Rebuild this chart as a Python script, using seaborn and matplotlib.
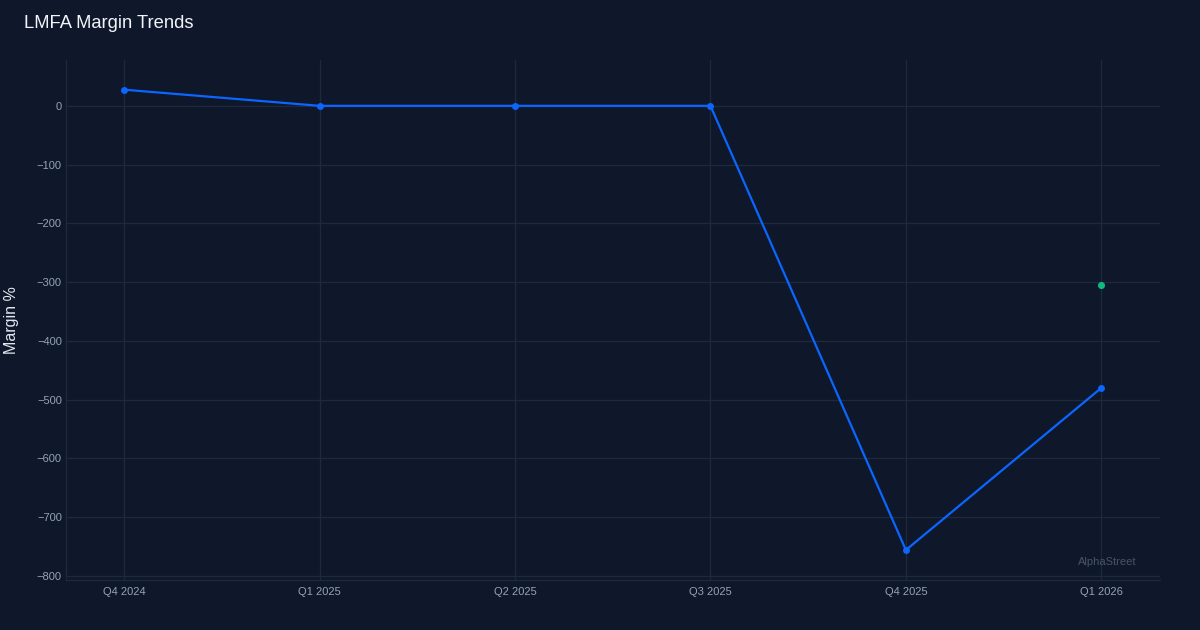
import pandas as pd
import seaborn as sns
import matplotlib.pyplot as plt

quarters = ["Q4 2024", "Q1 2025", "Q2 2025", "Q3 2025", "Q4 2025", "Q1 2026"]
margin = [27.5, 0, 0, 0, -756, -480]
estimate_quarter = ["Q1 2026"]
estimate_margin = [-305]

bg = "#0f172a"
grid = "#1e293b"
tick_color = "#94a3b8"

sns.set_theme(style="darkgrid")
plt.rcParams["font.family"] = ["Liberation Sans", "DejaVu Sans"]

df = pd.DataFrame({"Quarter": quarters, "Margin": margin})
df["pos"] = range(len(quarters))
est = pd.DataFrame({"Quarter": estimate_quarter, "Margin": estimate_margin})
est["pos"] = [quarters.index(q) for q in estimate_quarter]

fig = plt.figure(figsize=(12, 6.3), dpi=100, facecolor=bg)
ax = fig.add_axes([66 / 1200, 50 / 630, (1160 - 66) / 1200, (580 - 60) / 630])
ax.set_facecolor(bg)

sns.lineplot(data=df, x="pos", y="Margin", ax=ax, color="#0a66ff",
             linewidth=1.6, marker="o", markersize=5, markeredgewidth=0)
sns.scatterplot(data=est, x="pos", y="Margin", ax=ax, color="#10b981",
                s=26, linewidth=0, zorder=3)

ax.set_xlim(-0.297, 5.30)
ax.set_ylim(-807, 78)
ax.set_xticks(range(len(quarters)))
ax.set_xticklabels(quarters)
ax.set_yticks([0, -100, -200, -300, -400, -500, -600, -700, -800])
ax.set_yticklabels(["0", "\u2212100", "\u2212200", "\u2212300", "\u2212400",
                    "\u2212500", "\u2212600", "\u2212700", "\u2212800"])
ax.tick_params(colors=tick_color, labelsize=8, length=0)
ax.tick_params(axis="y", pad=3)
ax.tick_params(axis="x", pad=5)
ax.grid(True, color=grid, linewidth=1)
for side in ["top", "right"]:
    ax.spines[side].set_visible(False)
for side in ["left", "bottom"]:
    ax.spines[side].set_visible(True)
    ax.spines[side].set_color(grid)
    ax.spines[side].set_linewidth(1)

ax.set_xlabel("")
ax.set_ylabel("Margin %", color="#e2e8f0", fontsize=11.5)
ax.yaxis.set_label_coords(-(66 - 19) / (1160 - 66), 0.5)

fig.text(24 / 1200, 1 - 24 / 630, "LMFA Margin Trends", color="#f1f5f9",
         fontsize=13.2, va="center", ha="left")
ax.text(1078 / 1200, 1 - 562 / 630, "AlphaStreet", transform=fig.transFigure,
        color="#475569", fontsize=8, va="center", ha="left")

fig.savefig("out.png", dpi=100, facecolor=bg)
